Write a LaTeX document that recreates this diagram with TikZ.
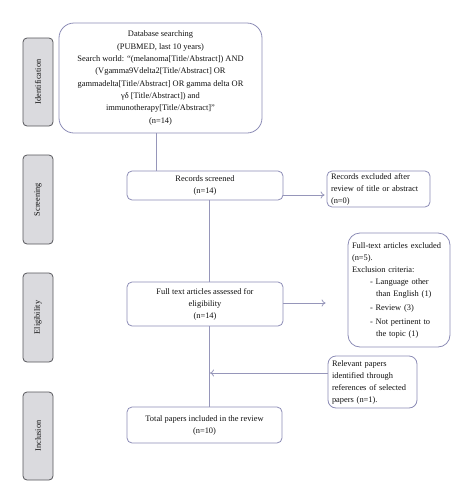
\documentclass[tikz,border=0pt]{standalone}
\usepackage{fontspec}
\setmainfont{Liberation Serif}
\usetikzlibrary{arrows.meta}
\definecolor{boxline}{RGB}{140,140,182}
\definecolor{connline}{RGB}{150,150,186}
\definecolor{sidefill}{RGB}{218,218,222}
\definecolor{sideline}{RGB}{85,85,90}
\definecolor{txt}{RGB}{15,15,15}
\begin{document}
\begin{tikzpicture}[x=1pt,y=1pt,
  every node/.style={text=txt,font=\fontsize{8.4}{12}\selectfont,inner sep=0pt},
  mainbox/.style={draw=boxline,line width=0.8pt,rounded corners=5pt,align=center},
  sidebox/.style={draw=sideline,fill=sidefill,line width=0.8pt,rounded corners=4pt},
  sidelabel/.style={rotate=90,font=\fontsize{8.3}{10}\selectfont},
  conn/.style={draw=connline,line width=0.8pt},
  arr/.style={conn,-{To[length=4pt,width=7pt]}}]
\useasboundingbox (0,0) rectangle (474,-504);
% side labels
\node[sidebox,minimum width=30pt,minimum height=88pt] (sid) at (38,-82) {};
\node[sidelabel] (sidt) at (sid.center) {Identification};
\node[sidebox,minimum width=30pt,minimum height=89pt] (sscr) at (38,-199.5) {};
\node[sidelabel] (sscrt) at (sscr.center) {Screening};
\node[sidebox,minimum width=30pt,minimum height=89pt] (selig) at (38,-317.5) {};
\node[sidelabel] (seligt) at (selig.center) {Eligibility};
\node[sidebox,minimum width=30pt,minimum height=88pt] (sinc) at (38,-436) {};
\node[sidelabel] (sinct) at (sinc.center) {Inclusion};
% main boxes
\node[mainbox,rounded corners=15pt,minimum width=203pt,minimum height=110pt,font=\fontsize{8.4}{12.35}\selectfont] (db) at (160.5,-78) {Database searching\\(PUBMED, last 10 years)\\Search world: ``(melanoma[Title/Abstract]) AND\\(Vgamma9Vdelta2[Title/Abstract] OR\\gammadelta[Title/Abstract] OR gamma delta OR\\γδ [Title/Abstract]) and\\immunotherapy[Title/Abstract]''\\(n=14)};
\node[mainbox,minimum width=156pt,minimum height=29pt] (scr) at (205,-185.5) {Records screened\\(n=14)};
\node[mainbox,minimum width=156pt,minimum height=44pt] (full) at (205,-304) {Full text articles assessed for\\eligibility\\(n=14)};
\node[mainbox,minimum width=155pt,minimum height=36pt] (tot) at (204.5,-425) {Total papers included in the review\\(n=10)};
% right boxes
\node[mainbox,align=left,minimum width=103pt,minimum height=36pt,text width=95pt] (rex) at (378.5,-189) {Records excluded after\\review of title or abstract\\(n=0)};
\node[mainbox,rounded corners=12pt,align=left,minimum width=102pt,minimum height=114pt,text width=94pt] (fex) at (399,-290) {Full-text articles excluded\\(n=5).\\Exclusion criteria:\\\hspace*{18pt}- Language other\\\hspace*{24pt}than English (1)\\[2.5pt]\hspace*{18pt}- Review (3)\\[1.5pt]\hspace*{18pt}- Not pertinent to\\\hspace*{24pt}the topic (1)};
\node[mainbox,rounded corners=8pt,align=left,minimum width=89pt,minimum height=52pt,text width=81pt] (rel) at (372.5,-382) {Relevant papers\\identified through\\references of selected\\papers (n=1).};
% connectors
\draw[conn] (156,0 |- db.south) -- (156,0 |- scr.north);
\draw[conn] (209,0 |- scr.south) -- (209,0 |- full.north);
\draw[conn] (209,0 |- full.south) -- (209,0 |- tot.north);
\draw[arr] (scr.east |- 0,-195) -- ([xshift=-2pt]rex.west |- 0,-195);
\draw[arr] (full.east |- 0,-303) -- ([xshift=-22pt]fex.west |- 0,-303);
\coordinate (arrtip) at (210,-373);
\draw[arr] (rel.west |- 0,-373) -- (arrtip);
\end{tikzpicture}
\end{document}
